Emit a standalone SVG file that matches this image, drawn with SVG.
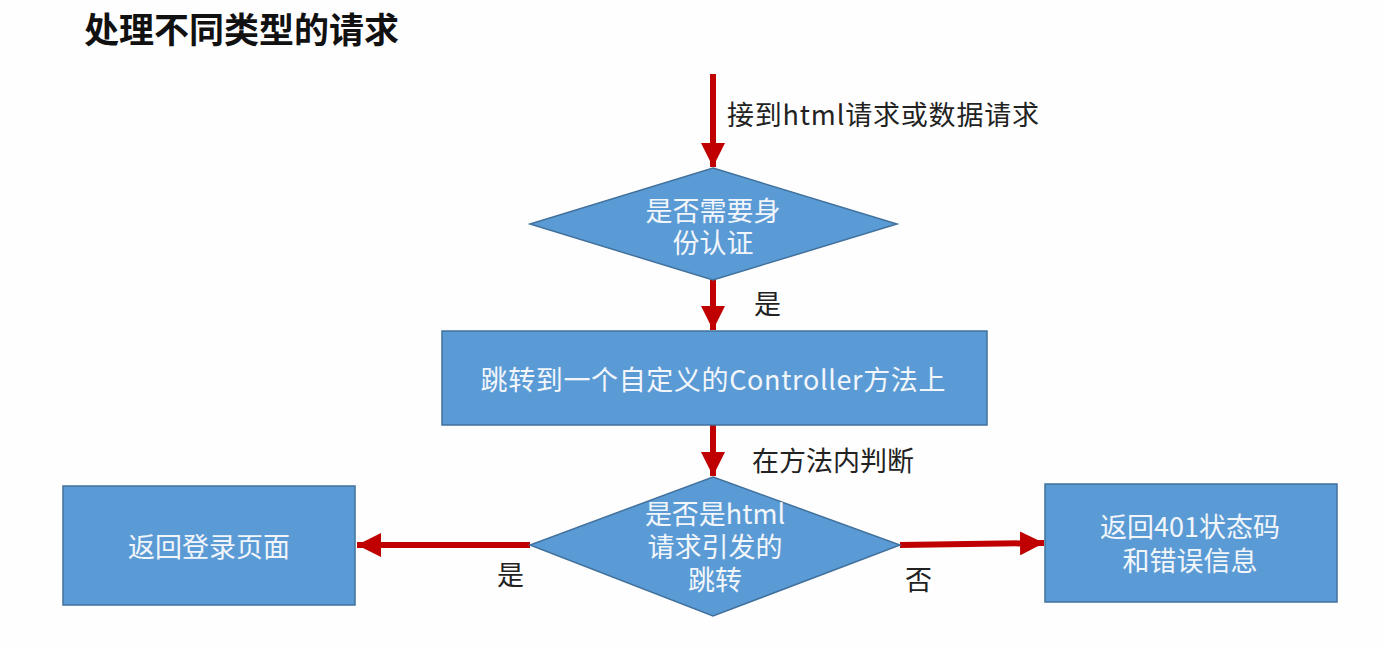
<svg xmlns="http://www.w3.org/2000/svg" width="1386" height="649" viewBox="0 0 1386 649">
<style>
.t{font-family:"Noto Sans CJK SC","Liberation Sans",sans-serif;}
.title{font-size:35px;font-weight:bold;fill:#111;}
.lbl{font-size:27px;fill:#222;}
.in{font-size:27px;fill:#f2f6fb;text-anchor:middle;}
.shape{fill:#5b9bd5;stroke:#41719c;stroke-width:1.5;}
.conn{stroke:#c00000;stroke-width:6;fill:none;}
</style>
<defs>
<marker id="ah" markerUnits="userSpaceOnUse" markerWidth="26" markerHeight="24" refX="24" refY="12" orient="auto">
<path d="M0,0 L24,12 L0,24 Z" fill="#c00000"/>
</marker>
</defs>
<rect width="1386" height="649" fill="#fefefe"/>
<text class="t title" x="84" y="43">处理不同类型的请求</text>
<g id="connectors">
<line class="conn" x1="713" y1="74" x2="713" y2="167" marker-end="url(#ah)"/>
<line class="conn" x1="713" y1="280" x2="713" y2="330" marker-end="url(#ah)"/>
<line class="conn" x1="713" y1="425" x2="713" y2="476" marker-end="url(#ah)"/>
<line class="conn" x1="530" y1="545" x2="357" y2="545" marker-end="url(#ah)"/>
<line class="conn" x1="900" y1="545" x2="1044" y2="543" marker-end="url(#ah)"/>
<text class="t lbl" x="727" y="125" textLength="312">接到html请求或数据请求</text>
<text class="t lbl" x="754" y="314">是</text>
<text class="t lbl" x="752" y="471">在方法内判断</text>
<text class="t lbl" x="497" y="585">是</text>
<text class="t lbl" x="905" y="590">否</text>
</g>
<g id="n1">
<polygon class="shape" points="713,168 897,224 713,280 530,224"/>
<text class="t in" x="713" y="221">是否需要身</text>
<text class="t in" x="713" y="253">份认证</text>
</g>
<g id="n2">
<rect class="shape" x="442" y="331" width="545" height="94"/>
<text class="t in" x="713" y="390" textLength="465">跳转到一个自定义的Controller方法上</text>
</g>
<g id="n3">
<polygon class="shape" points="713,477 900,545 713,616 530,545"/>
<text class="t in" x="715" y="524">是否是html</text>
<text class="t in" x="715" y="557">请求引发的</text>
<text class="t in" x="715" y="590">跳转</text>
</g>
<g id="n4">
<rect class="shape" x="63" y="486" width="292" height="119"/>
<text class="t in" x="209" y="557">返回登录页面</text>
</g>
<g id="n5">
<rect class="shape" x="1045" y="484" width="292" height="118"/>
<text class="t in" x="1190" y="537">返回401状态码</text>
<text class="t in" x="1190" y="571">和错误信息</text>
</g>
</svg>
